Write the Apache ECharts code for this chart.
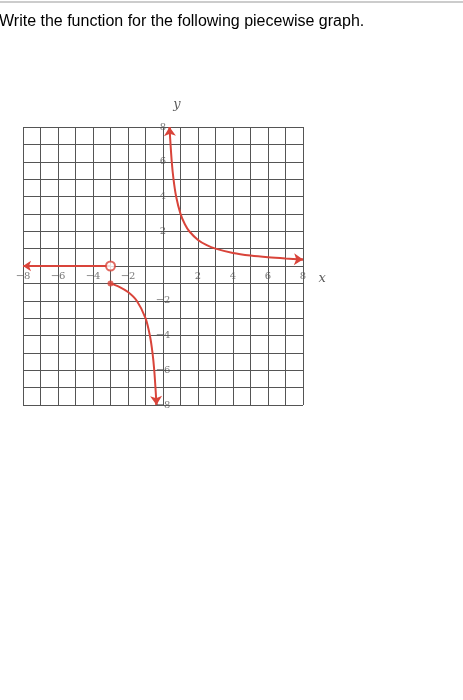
<!DOCTYPE html><html><head><meta charset="utf-8"><script src="https://cdn.jsdelivr.net/npm/echarts@6/dist/echarts.min.js"></script>
<style>html,body{margin:0;background:#fff}#c{width:463px;height:700px}</style></head><body><div id="c"></div><script>
var xTickLabels=[-8,-6,-4,-2,2,4,6,8];
var yTickLabels=[8,6,4,2,-2,-4,-6,-8];
var rightBranch=[[0.375,8],[0.4,7.5],[0.5,6],[0.6,5],[0.75,4],[1,3],[1.25,2.4],[1.5,2],[2,1.5],[2.5,1.2],[3,1],[4,0.75],[5,0.6],[6,0.5],[7,0.43],[8,0.375]];
var leftBranch=[[-3,-1],[-2.5,-1.2],[-2,-1.5],[-1.5,-2],[-1,-3],[-0.75,-4],[-0.6,-5],[-0.5,-6],[-0.4,-7.5],[-0.375,-8]];
var flatPiece=[[-8,0],[-3,0]];
var openPoint=[[-3,0]];
var closedPoint=[[-3,-1]];
var red='#d9443a';
var ch=echarts.init(document.getElementById('c'));
var lbl=function(d,pos,off){return {type:'scatter',symbolSize:0,silent:true,clip:false,data:d,label:{show:true,position:pos,offset:off,fontFamily:'DejaVu Serif',fontSize:10,color:'#555',formatter:function(p){return String(p.value[0]!==0?p.value[0]:p.value[1]).replace('-','\u2212');}},z:5};};
var arrowML=function(segs){return {silent:true,symbol:['none','arrow'],symbolSize:9,lineStyle:{color:red,width:2,type:'solid'},label:{show:false},data:segs.map(function(s){return [{coord:s[0]},{coord:s[1]}];})};};
ch.setOption({
title:{text:'Write the function for the following piecewise graph.',left:-6,top:9,textStyle:{fontFamily:'Liberation Sans',fontSize:16,fontWeight:'normal',color:'#000'}},
graphic:[{type:'line',shape:{x1:0,y1:2,x2:463,y2:2},style:{stroke:'#999',lineWidth:1}}],
grid:{left:23,top:127,width:280,height:278},
xAxis:{type:'value',min:-8,max:8,interval:1,axisLine:{show:false},axisTick:{show:false},axisLabel:{show:false},splitLine:{lineStyle:{color:'#555',width:1}}},
yAxis:{type:'value',min:-8,max:8,interval:1,axisLine:{show:false},axisTick:{show:false},axisLabel:{show:false},splitLine:{lineStyle:{color:'#555',width:1}}},
series:[
{type:'line',data:[[0,0]],showSymbol:false,lineStyle:{width:0},clip:false,markLine:{silent:true,symbol:['arrow','arrow'],symbolSize:[9,12],lineStyle:{color:'#000',width:1.5,type:'solid'},label:{show:false},data:[[{coord:[-8.8,0]},{coord:[9.1,0]}],[{coord:[0,-9.2]},{coord:[0,9.3]}]]},z:3},
{type:'line',data:flatPiece,showSymbol:false,lineStyle:{color:red,width:2},z:4,clip:false,markLine:{silent:true,symbol:['arrow','none'],symbolSize:8,lineStyle:{color:red,width:2,type:'solid'},label:{show:false},data:[[{coord:[-8,0]},{coord:[-3.2,0]}]]}},
{type:'line',data:rightBranch,smooth:0.3,showSymbol:false,lineStyle:{color:red,width:2},z:4,clip:false,markLine:arrowML([[[0.39,7.6],[0.375,8]],[[7.6,0.39],[8,0.375]]])},
{type:'line',data:leftBranch,smooth:0.3,showSymbol:false,lineStyle:{color:red,width:2},z:4,clip:false,markLine:arrowML([[[-0.39,-7.6],[-0.375,-8]]])},
{type:'scatter',data:openPoint,symbolSize:9,itemStyle:{color:'#fff',borderColor:red,borderWidth:2},z:6},
{type:'scatter',data:closedPoint,symbolSize:6,itemStyle:{color:red},z:6},
lbl(xTickLabels.map(function(v){return [v,0];}),'bottom',[0,0]),
lbl(yTickLabels.map(function(v){return [0,v];}),'inside',[0,0]),
{type:'scatter',symbolSize:0,clip:false,data:[[9.1,-0.7],[0.8,9.3]],label:{show:true,position:'inside',fontFamily:'DejaVu Serif',fontStyle:'italic',fontSize:13,color:'#333',formatter:function(p){return p.dataIndex?'y':'x';}}}
]});
</script></body></html>
